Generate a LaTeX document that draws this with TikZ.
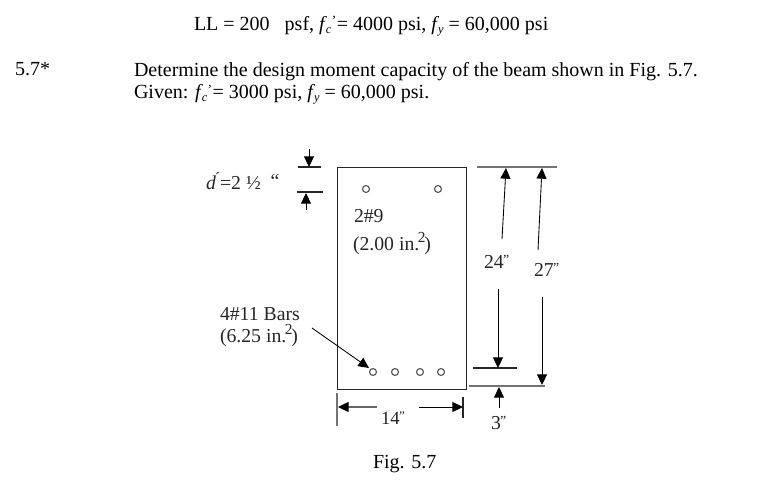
\documentclass[tikz,border=0pt]{standalone}
\usepackage{fontspec}
\setmainfont{Liberation Serif}
\usetikzlibrary{arrows.meta}
\newcommand{\fsub}[1]{\textit{f}\kern-0.8pt\raisebox{-2.5pt}{\scalebox{0.62}{\textit{#1}}}}
\newcommand{\fpr}[1]{\fsub{#1}\kern-0.5pt\raisebox{3pt}{\scalebox{0.7}{\textit{'}}}\kern1pt}
\newcommand{\qt}{\kern-0.5pt\raisebox{2.6pt}{\scalebox{0.7}{”}}}
\newcommand{\sqr}{\raisebox{5.5pt}{\fontsize{11.5pt}{12pt}\selectfont 2}}
\tikzset{
  x=0.75pt,y=-0.75pt,
  body/.style={anchor=base west,inner sep=0pt,outer sep=0pt,font=\fontsize{15pt}{17pt}\selectfont,text=black},
  lab/.style={anchor=base west,inner sep=0pt,outer sep=0pt,font=\fontsize{14.8pt}{17pt}\selectfont,text=black!85},
  bar/.style={circle,draw=black!70,line width=0.8pt,fill=white,minimum size=5.2pt,inner sep=0pt},
  beam/.style={draw=black!85,line width=0.9pt,inner sep=0pt,minimum width=96.75pt,minimum height=166.5pt},
  dimline/.style={line width=0.8pt,draw=black!85},
  grayline/.style={line width=1.3pt,draw=black!55},
  arr/.style={-{Triangle[length=8pt,width=7.5pt]},line width=0.65pt,draw=black},
  grayarr/.style={-{Triangle[length=8pt,width=7.5pt,color=black]},line width=1pt,draw=black!60},
}
\begin{document}
\begin{tikzpicture}
\useasboundingbox (0,0) rectangle (770,496);
\node[body] (ll) at (194,30) {LL = 200\ \ \ psf, \fpr{c}= 4000 psi, \fsub{y} = 60,000 psi};
\node[body] (num) at (15,75) {5.7*};
\node[body] (q1) at (134,76) {Determine the design moment capacity of the beam shown in Fig. 5.7.};
\node[body] (q2) at (134,98) {Given: \fpr{c}= 3000 psi, \fsub{y} = 60,000 psi.};
\node[body] (figcap) at (373,468) {Fig. 5.7};

\node[beam,anchor=north west] (sec) at (337,167) {};
\node[bar] (t1) at (366,189) {};
\node[bar] (t2) at (438,189) {};
\node[bar] (b1) at (373,372) {};
\node[bar] (b2) at (395,372) {};
\node[bar] (b3) at (420,372) {};
\node[bar] (b4) at (441,372) {};

\node[lab] (l29) at (354,222) {2\#9};
\node[lab] (la2) at (353,250) {(2.00 in.\kern-1pt\sqr\kern-1pt)};
\node[lab] (l411) at (220,320) {4\#11 Bars};
\node[lab] (la6) at (220,342) {(6.25 in.\kern-1pt\sqr\kern-1pt)};
\node[lab] (ld) at (206,189) {\textit{d}\raisebox{4pt}{\scalebox{0.8}{\kern-1pt´}}=2 ½\ \ \raisebox{1pt}{“}};
\node[lab] (l24) at (484,268) {24\qt};
\node[lab] (l27) at (534,276) {27\qt};
\node[lab] (l3) at (491,429) {3\qt};
\node[lab,font=\fontsize{14pt}{15pt}\selectfont] (l14) at (381,424) {14\qt};

% leader
\coordinate (lead) at (312,328);
\coordinate (leadend) at (369,368);
\draw[arr] (lead) -- (leadend);

% d' dimension
\coordinate (da) at (298,167); \coordinate (db) at (321,167);
\coordinate (dc) at (297,192); \coordinate (dd) at (323,192);
\draw[dimline] (da) -- (db);
\draw[dimline] (dc) -- (dd);
\coordinate (d1) at (309,149); \coordinate (d1e) at (309,167);
\coordinate (d2) at (306,210); \coordinate (d2e) at (306,193);
\draw[arr] (d1) -- (d1e);
\draw[arr] (d2) -- (d2e);

% right dimensions
\coordinate (ta) at (477,167); \coordinate (tb) at (557,167);
\draw[grayline] (ta) -- (tb);
\coordinate (ma) at (473,368); \coordinate (mb) at (517,368);
\draw[dimline] (ma) -- (mb);
\coordinate (ba) at (469,386); \coordinate (bb) at (545,386);
\draw[grayline] (ba) -- (bb);
\coordinate (a24) at (502,239); \coordinate (a24e) at (506,168);
\coordinate (a27) at (538,250); \coordinate (a27e) at (542,168);
\coordinate (c24) at (498,289); \coordinate (c24e) at (498,368);
\coordinate (c27) at (542,297); \coordinate (c27e) at (542,385);
\coordinate (a3) at (499,408); \coordinate (a3e) at (499,387);
\draw[arr] (a24) -- (a24e);
\draw[arr] (a27) -- (a27e);
\draw[arr] (c24) -- (c24e);
\draw[arr] (c27) -- (c27e);
\draw[arr] (a3) -- (a3e);

% width dimension
\coordinate (wa) at (337,393); \coordinate (wb) at (337,426);
\draw[grayline] (wa) -- (wb);
\coordinate (wc) at (463,397); \coordinate (wd) at (463,418);
\draw[dimline] (wc) -- (wd);
\coordinate (w1) at (377,407); \coordinate (w1e) at (338,407);
\coordinate (w2) at (419,407); \coordinate (w2e) at (463,407);
\draw[grayarr] (w1) -- (w1e);
\draw[arr] (w2) -- (w2e);
\end{tikzpicture}
\end{document}
